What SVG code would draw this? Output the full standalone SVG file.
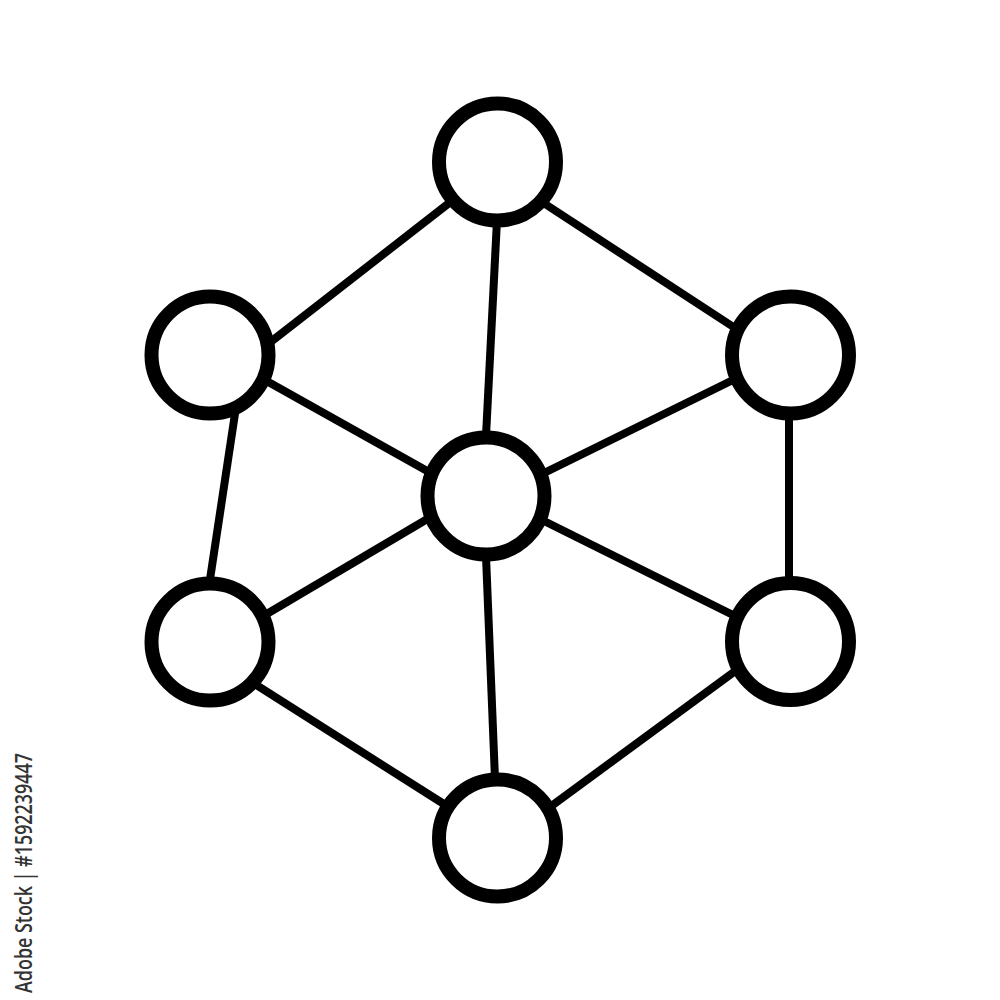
<svg xmlns="http://www.w3.org/2000/svg" width="1000" height="1000" viewBox="0 0 1000 1000">
  <style>
    .edge { stroke: #000; stroke-width: 8; stroke-linecap: butt; fill: none; }
    .node { fill: #fff; stroke: #000; stroke-width: 14; }
    .credit { font-family: "Open Sans", "Liberation Sans", sans-serif; font-size: 23px; font-weight: 600; fill: #333; }
  </style>
  <rect x="0" y="0" width="1000" height="1000" fill="#fff"/>
  <g id="connectors">
    <line class="edge" x1="453" y1="200" x2="268" y2="344"/>
    <line class="edge" x1="542" y1="202" x2="735" y2="328"/>
    <line class="edge" x1="497" y1="220" x2="486" y2="436"/>
    <line class="edge" x1="263" y1="379" x2="429" y2="472"/>
    <line class="edge" x1="735" y1="379" x2="544" y2="473"/>
    <line class="edge" x1="236" y1="407" x2="209" y2="586"/>
    <line class="edge" x1="789" y1="414" x2="789" y2="583"/>
    <line class="edge" x1="429" y1="518" x2="265" y2="615"/>
    <line class="edge" x1="544" y1="521" x2="735" y2="616"/>
    <line class="edge" x1="253" y1="683" x2="447" y2="806"/>
    <line class="edge" x1="738" y1="669" x2="550" y2="807"/>
    <line class="edge" x1="486" y1="556" x2="495" y2="779"/>
  </g>
  <g id="node-top"><circle class="node" cx="497.5" cy="162" r="58.5"/></g>
  <g id="node-left-top"><circle class="node" cx="210" cy="355" r="58.5"/></g>
  <g id="node-right-top"><circle class="node" cx="790.5" cy="355" r="58.5"/></g>
  <g id="node-center"><circle class="node" cx="486" cy="496" r="58.5"/></g>
  <g id="node-left-bottom"><circle class="node" cx="210" cy="642" r="58.5"/></g>
  <g id="node-right-bottom"><circle class="node" cx="790.5" cy="641.5" r="58.5"/></g>
  <g id="node-bottom"><circle class="node" cx="497.5" cy="838" r="58.5"/></g>
  <text class="credit" transform="translate(32,993) rotate(-90)" x="0" y="0" textLength="240" lengthAdjust="spacingAndGlyphs">Adobe Stock | #1592239447</text>
</svg>
